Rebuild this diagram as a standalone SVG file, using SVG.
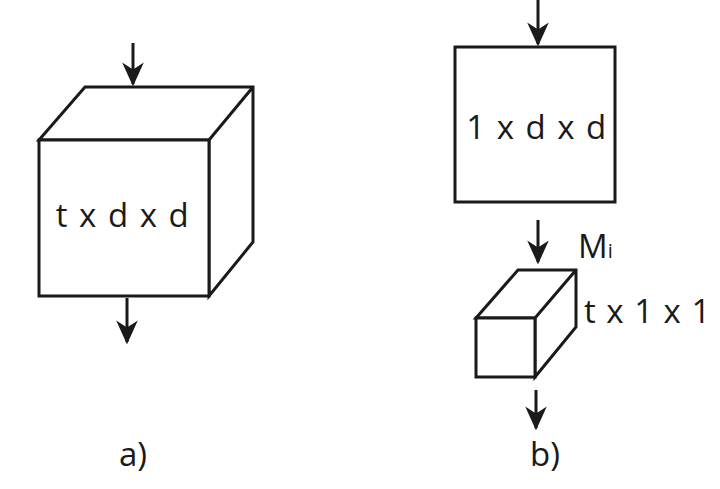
<svg xmlns="http://www.w3.org/2000/svg" width="720" height="489" viewBox="0 0 720 489">
<defs>
<style>
.s{fill:#fff;stroke:#1a1a1a;stroke-width:3;stroke-linejoin:miter}
.c{stroke:#1a1a1a;stroke-width:3;fill:none}
.t{font-family:"Open Sans","Liberation Sans",sans-serif;fill:#1a1a1a;font-size:33px}
</style>
<marker id="ah" viewBox="0 0 10 10" refX="9" refY="5" markerWidth="8" markerHeight="9" markerUnits="strokeWidth" orient="auto">
<path d="M0,0.5 L10,5 L0,9.5 L3,5 Z" fill="#1a1a1a"/>
</marker>
</defs>
<rect width="720" height="489" fill="#fff"/>
<g id="cube-a">
<path class="s" d="M39,140 L85,87 L253,87 L253,242 L209,296 L209,140 Z M209,140 L253,87"/>
<rect class="s" x="39" y="140" width="170" height="156"/>
<text class="t" x="123" y="227" text-anchor="middle" letter-spacing="1.5">t x d x d</text>
</g>
<g id="square-b">
<rect class="s" x="455" y="47" width="160" height="155"/>
<text class="t" x="537" y="139" text-anchor="middle" letter-spacing="1.5">1 x d x d</text>
</g>
<g id="cube-b">
<path class="s" d="M476,318 L518,270 L576,270 L576,327 L535,377 L535,318 Z M535,318 L576,270"/>
<rect class="s" x="476" y="318" width="59" height="59"/>
<text class="t" x="578" y="258">M<tspan font-size="20">i</tspan></text>
<text class="t" x="584" y="323" letter-spacing="1">t x 1 x 1</text>
</g>
<g id="labels">
<text class="t" x="133" y="466" text-anchor="middle">a)</text>
<text class="t" x="545" y="466" text-anchor="middle">b)</text>
</g>
<g id="connectors">
<line class="c" x1="133" y1="43" x2="133" y2="84" marker-end="url(#ah)"/>
<line class="c" x1="127" y1="298" x2="127" y2="342" marker-end="url(#ah)"/>
<line class="c" x1="538" y1="0" x2="538" y2="44" marker-end="url(#ah)"/>
<line class="c" x1="538" y1="220" x2="538" y2="262" marker-end="url(#ah)"/>
<line class="c" x1="536" y1="390" x2="536" y2="428" marker-end="url(#ah)"/>
</g>
</svg>
